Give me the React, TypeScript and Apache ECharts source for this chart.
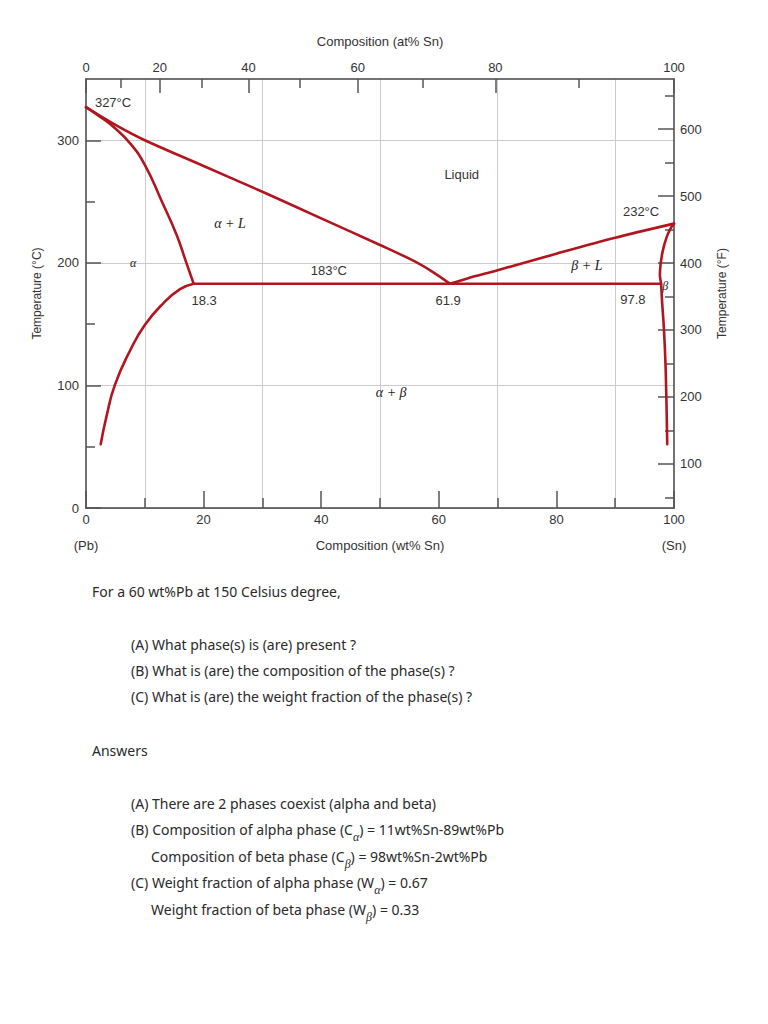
import React, { useEffect, useRef } from "react";
import * as echarts from "echarts";

// ---------- data ----------
const W_SN = 118.71;
const W_PB = 207.2;
const atToWt = (a: number) => (100 * a * W_SN) / (a * W_SN + (100 - a) * W_PB);
const wtToAt = (w: number) => (100 * (w / W_SN)) / (w / W_SN + (100 - w) / W_PB);

const wtMajor = [0, 20, 40, 60, 80, 100];
const wtMinor = [10, 30, 50, 70, 90];
const atMajor = [0, 20, 40, 60, 80, 100];
const atMinor = [10, 30, 50, 70, 90];
const cMajor = [0, 100, 200, 300];
const cMinor = [50, 150, 250];
const fMajor = [100, 200, 300, 400, 500, 600];
const fMinor = [50, 150, 250, 350, 450, 550, 650];
const endLabels = ["(Pb)", "(Sn)"];

const liquidusLeft = [
  [0, 327], [5, 312.5], [10, 300], [20, 279], [30, 258],
  [40, 236.3], [50, 214.6], [56, 201], [59, 192.5], [61.9, 183],
];
const solidusLeft = [
  [0, 327], [2.3, 319.5], [4.65, 311], [7.5, 297.5], [10, 280], [12.9, 250], [15.4, 223], [17, 201], [18.3, 183],
];
const solvusLeft = [
  [18.3, 183], [16, 178.5], [13.15, 167], [10, 149.3], [7.5, 128.5], [4.9, 100.2], [3.5, 75], [2.5, 52],
];
const eutecticLine = [[18.3, 183], [97.8, 183]];
const liquidusRight = [[61.9, 183], [65, 187.5], [70, 194], [80, 207.5], [90, 220.5], [100, 232]];
const betaCurve = [
  [100, 232], [99.4, 228], [98.75, 221], [98.1, 210], [97.7, 198], [97.6, 190], [97.8, 183],
  [97.95, 170], [98.3, 145], [98.55, 118], [98.7, 90], [98.85, 52],
];

const regionLabels = [
  { t: "327°C", x: 4.6, y: 331, greek: false },
  { t: "Liquid", x: 63.9, y: 272, greek: false },
  { t: "α + L", x: 24.5, y: 232, greek: true },
  { t: "α", x: 8.0, y: 200, greek: true },
  { t: "183°C", x: 41.3, y: 193.5, greek: false },
  { t: "232°C", x: 94.4, y: 241.5, greek: false },
  { t: "β + L", x: 85.2, y: 197.5, greek: true },
  { t: "β", x: 98.5, y: 181, greek: true },
  { t: "18.3", x: 20.1, y: 169, greek: false },
  { t: "61.9", x: 61.6, y: 169, greek: false },
  { t: "97.8", x: 93.0, y: 169.7, greek: false },
  { t: "α + β", x: 51.9, y: 94, greek: true },
];

const textLines: { x: number; y: number; parts: (string | { sub: string })[] }[] = [
  { x: 92, y: 592, parts: ["For a 60 wt%Pb at 150 Celsius degree,"] },
  { x: 131, y: 645, parts: ["(A) What phase(s) is (are) present ?"] },
  { x: 131, y: 671, parts: ["(B) What is (are) the composition of the phase(s) ?"] },
  { x: 131, y: 697, parts: ["(C) What is (are) the weight fraction of the phase(s) ?"] },
  { x: 92, y: 751, parts: ["Answers"] },
  { x: 131, y: 804, parts: ["(A) There are 2 phases coexist (alpha and beta)"] },
  { x: 131, y: 830, parts: ["(B) Composition of alpha phase (C", { sub: "α" }, ") = 11wt%Sn-89wt%Pb"] },
  { x: 151, y: 857, parts: ["Composition of beta phase (C", { sub: "β" }, ") = 98wt%Sn-2wt%Pb"] },
  { x: 131, y: 883, parts: ["(C) Weight fraction of alpha phase (W", { sub: "α" }, ") = 0.67"] },
  { x: 151, y: 910, parts: ["Weight fraction of beta phase (W", { sub: "β" }, ") = 0.33"] },
];

// ---------- styles ----------
const FONT = "Liberation Sans";
const TXT = "#333";
const AX = "#444";
const RED = "#b3151f";
const tickStyle = { color: "#555", width: 1.5 };
const labelFont = { color: TXT, fontFamily: FONT, fontSize: 13 };

export default function App() {
  const ref = useRef<HTMLDivElement>(null);
  useEffect(() => {
    if (!ref.current) return;
    const chart = echarts.init(ref.current, undefined, { renderer: "svg" });
    const lineSeries = (data: number[][], smooth: number) => ({
      type: "line",
      xAxisIndex: 0,
      yAxisIndex: 0,
      data,
      smooth,
      showSymbol: false,
      symbol: "none",
      lineStyle: { color: RED, width: 2.6, join: "round", cap: "round" },
      silent: true,
      z: 5,
    });
    const hiddenLine = { show: false, onZero: false };
    const option: any = {
      animation: false,
      backgroundColor: "#fff",
      grid: { left: 86, top: 79, width: 588, height: 429, containLabel: false, outerBoundsMode: "none" },
      xAxis: [
        {
          type: "value", position: "bottom", min: 0, max: 100,
          axisLine: { show: true, onZero: false, lineStyle: { color: AX, width: 1.5 } },
          axisTick: { show: true, inside: true, length: 17, customValues: wtMajor, lineStyle: tickStyle },
          axisLabel: { customValues: wtMajor, margin: 5, ...labelFont },
          splitLine: { show: false },
          name: "Composition (wt% Sn)", nameLocation: "middle", nameGap: 31,
          nameTextStyle: labelFont,
        },
        {
          type: "value", position: "bottom", min: 0, max: 100, interval: 10,
          axisLine: hiddenLine,
          axisTick: { show: true, inside: true, length: 10, customValues: wtMinor, lineStyle: tickStyle },
          axisLabel: { show: false },
          splitLine: { show: true, lineStyle: { color: "#cccccc", width: 1 } },
        },
        {
          type: "value", position: "bottom", min: 0, max: 100,
          axisLine: hiddenLine,
          axisTick: { show: false },
          axisLabel: {
            customValues: [0, 100], margin: 31, ...labelFont,
            formatter: (v: number) => (v < 50 ? endLabels[0] : endLabels[1]),
          },
          splitLine: { show: false },
        },
        {
          type: "value", position: "top", min: 0, max: 100,
          axisLine: { show: true, onZero: false, lineStyle: { color: AX, width: 1.5 } },
          axisTick: { show: true, inside: true, length: 14, customValues: atMajor.map(atToWt), lineStyle: tickStyle },
          axisLabel: {
            customValues: atMajor.map(atToWt), margin: 5, ...labelFont,
            formatter: (v: number) => String(Math.round(wtToAt(v))),
          },
          splitLine: { show: false },
          name: "Composition (at% Sn)", nameLocation: "middle", nameGap: 31,
          nameTextStyle: labelFont,
        },
        {
          type: "value", position: "top", min: 0, max: 100,
          axisLine: hiddenLine,
          axisTick: { show: true, inside: true, length: 9, customValues: atMinor.map(atToWt), lineStyle: tickStyle },
          axisLabel: { show: false },
          splitLine: { show: false },
        },
      ],
      yAxis: [
        {
          type: "value", position: "left", min: 0, max: 350, interval: 100,
          axisLine: { show: true, onZero: false, lineStyle: { color: AX, width: 1.5 } },
          axisTick: { show: true, inside: true, length: 15, customValues: cMajor, lineStyle: tickStyle },
          axisLabel: { customValues: cMajor, margin: 7, ...labelFont },
          splitLine: { show: true, lineStyle: { color: "#cccccc", width: 1 } },
          name: "Temperature (°C)", nameLocation: "middle", nameGap: 43, nameRotate: 90,
          nameTextStyle: { ...labelFont, fontSize: 12 },
        },
        {
          type: "value", position: "left", min: 0, max: 350,
          axisLine: hiddenLine,
          axisTick: { show: true, inside: true, length: 9, customValues: cMinor, lineStyle: tickStyle },
          axisLabel: { show: false },
          splitLine: { show: false },
        },
        {
          type: "value", position: "right", min: 34, max: 675,
          axisLine: { show: true, onZero: false, lineStyle: { color: AX, width: 1.5 } },
          axisTick: { show: true, inside: true, length: 16, customValues: fMajor, lineStyle: tickStyle },
          axisLabel: { customValues: fMajor, margin: 6, ...labelFont },
          splitLine: { show: false },
          name: "Temperature (°F)", nameLocation: "middle", nameGap: 42, nameRotate: 90,
          nameTextStyle: { ...labelFont, fontSize: 12 },
        },
        {
          type: "value", position: "right", min: 34, max: 675,
          axisLine: hiddenLine,
          axisTick: { show: true, inside: true, length: 9, customValues: fMinor, lineStyle: tickStyle },
          axisLabel: { show: false },
          splitLine: { show: false },
        },
      ],
      series: [
        lineSeries(liquidusLeft, 0.35),
        lineSeries(solidusLeft, 0.5),
        lineSeries(solvusLeft, 0.5),
        lineSeries(eutecticLine, 0),
        lineSeries(liquidusRight, 0.3),
        lineSeries(betaCurve, 0.4),
        {
          type: "custom",
          xAxisIndex: 0,
          yAxisIndex: 0,
          silent: true,
          clip: false,
          z: 10,
          data: regionLabels.map((l, i) => [l.x, l.y, i]),
          renderItem: (params: any, api: any) => {
            const lab = regionLabels[api.value(2)];
            const p = api.coord([api.value(0), api.value(1)]);
            return {
              type: "text",
              x: p[0],
              y: p[1],
              style: {
                text: lab.t,
                fill: lab.greek ? "#222" : TXT,
                font: lab.greek
                  ? `italic ${lab.t.length === 1 ? 12 : 14}px "Liberation Serif"`
                  : `13px "${FONT}"`,
                align: "center",
                verticalAlign: "middle",
              },
            };
          },
        },
      ],
    };
    chart.setOption(option);
    return () => chart.dispose();
  }, []);

  return (
    <div style={{ position: "absolute", left: 0, top: 0, width: 768, height: 1024, background: "#fff" }}>
      <div ref={ref} style={{ position: "absolute", left: 0, top: 0, width: 768, height: 570 }} />
      {textLines.map((ln, i) => (
        <div
          key={i}
          style={{
            position: "absolute",
            left: ln.x,
            top: ln.y - 10,
            height: 20,
            lineHeight: "20px",
            whiteSpace: "nowrap",
            fontFamily: '"Noto Sans", sans-serif',
            fontSize: 14,
            color: "#2a2a2a",
          }}
        >
          {ln.parts.map((p, j) =>
            typeof p === "string" ? (
              <span key={j}>{p}</span>
            ) : (
              <sub
                key={j}
                style={{ fontFamily: '"Liberation Serif", serif', fontStyle: "italic", fontSize: 12, verticalAlign: "-6px", lineHeight: 0 }}
              >
                {p.sub}
              </sub>
            )
          )}
        </div>
      ))}
    </div>
  );
}
